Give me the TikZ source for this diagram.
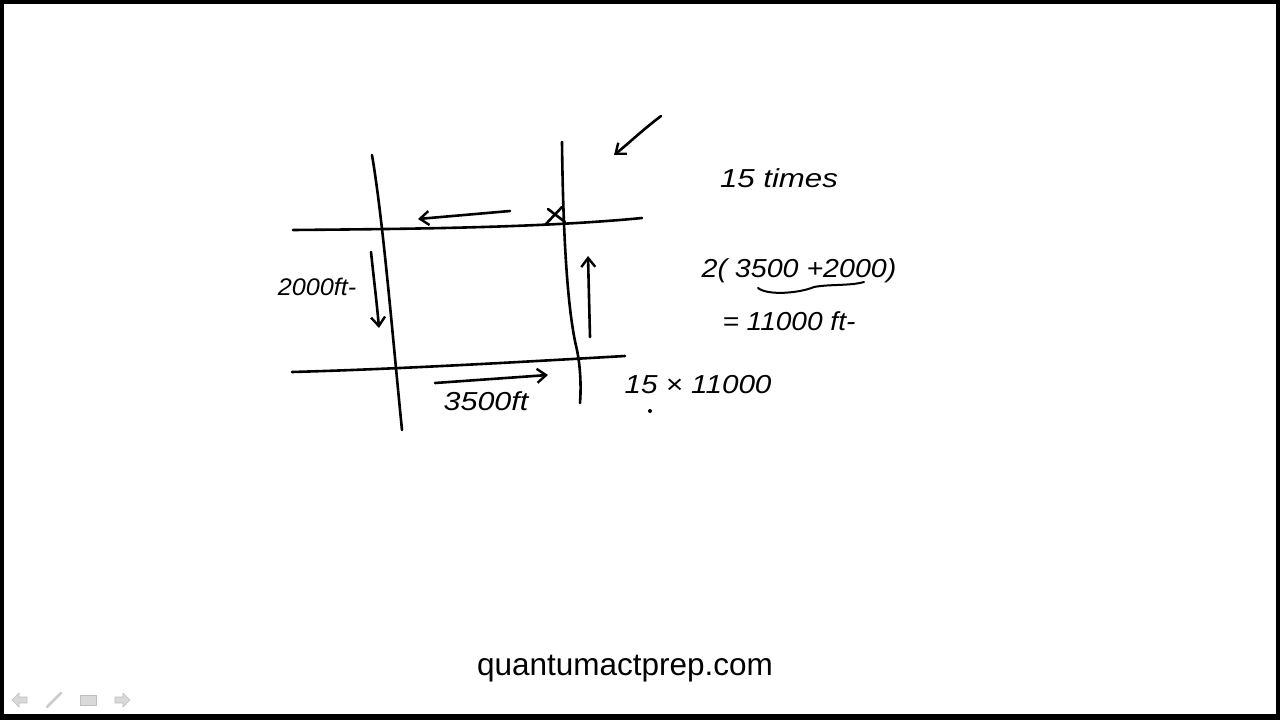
\documentclass[tikz,border=0pt]{standalone}
\usepackage{fontspec}
\setmainfont{Liberation Sans}
\usetikzlibrary{arrows.meta}
\tikzset{
  pen/.style={line width=2.6pt, line cap=round, line join=round, black},
  penarrow/.style={pen, -{Straight Barb[length=9pt,width=14pt,line width=2.4pt]}},
  hand/.style={font=\fontsize{26}{28}\selectfont\itshape, inner sep=0pt, anchor=center},
  icon/.style={fill=black!15, draw=black!25, line width=0.6pt}
}
\begin{document}
\begin{tikzpicture}[x=1pt,y=-1pt]
\useasboundingbox (0,0) rectangle (1280,720);
% frame
\fill[black] (0,0) rectangle (1280,720);
\fill[white] (4,4) rectangle (1276,714);

% coordinates for road lines
\coordinate (lv1) at (372,155);
\coordinate (lv2) at (402,430);
\coordinate (rv1) at (562,142);
\coordinate (rv2) at (580,403);
\coordinate (th1) at (293,230);
\coordinate (th2) at (642,218);
\coordinate (bh1) at (292,372);
\coordinate (bh2) at (625,356);

% roads
\draw[pen] (lv1) .. controls (383,220) and (392,330) .. (lv2);
\draw[pen] (rv1) .. controls (563,230) and (567,310) .. (577,350) .. controls (581,370) and (581,390) .. (rv2);
\draw[pen] (th1) .. controls (400,229) and (540,228) .. (th2);
\draw[pen] (bh1) .. controls (400,369) and (520,362) .. (bh2);

% direction arrows
\coordinate (a1s) at (510,211);
\coordinate (a1e) at (418,219);
\draw[penarrow] (a1s) -- (a1e);
\coordinate (a2s) at (371,252);
\coordinate (a2e) at (379,328);
\draw[penarrow] (a2s) .. controls (374,280) and (377,305) .. (a2e);
\coordinate (a3s) at (590,337);
\coordinate (a3e) at (588,256);
\draw[penarrow] (a3s) -- (a3e);
\coordinate (a4s) at (435,383);
\coordinate (a4e) at (548,375);
\draw[penarrow] (a4s) -- (a4e);
\coordinate (a5s) at (661,116);
\coordinate (a5e) at (614,155);
\draw[penarrow] (a5s) .. controls (640,132) and (628,144) .. (a5e);

% X mark
\coordinate (x1) at (548,209);
\coordinate (x2) at (565,222);
\coordinate (x3) at (562,207);
\coordinate (x4) at (545,225);
\draw[pen] (x1) -- (x2);
\draw[pen] (x3) -- (x4);

% labels
\node[hand, font=\fontsize{24}{26}\selectfont\itshape] (l2000) at (317,287) {\scalebox{1.05}[1]{2000ft-}};
\node[hand] (l3500) at (486,401) {\scalebox{1.17}[1]{3500ft}};
\node[hand] (ltimes) at (779,178) {\scalebox{1.2}[1]{15 times}};
\node[hand] (lsum) at (799,271) {\scalebox{1.1}[1]{2( 3500 +2000)}};
\node[hand] (leq) at (789,321) {\scalebox{1.08}[1]{= 11000 ft-}};
\node[hand] (lprod) at (698,385) {\scalebox{1.14}[1]{15 × 11000}};
\fill (650,411) circle (2pt);

% underbrace
\coordinate (ub1) at (758,288);
\coordinate (ub2) at (864,282);
\draw[pen, line width=2pt] (ub1) .. controls (768,296) and (800,293) .. (814,287)
  .. controls (830,284) and (850,286) .. (ub2);

% footer
\node[font=\fontsize{31.5}{34}\selectfont, inner sep=0pt, anchor=base] (site) at (625,675) {quantumactprep.com};

% navigation icons
\fill[icon] (12,700) -- (19,693) -- (19,697) -- (27,697) -- (27,703) -- (19,703) -- (19,707) -- cycle;
\draw[black!20, line width=2.5pt, line cap=round] (47,707) -- (61,693);
\fill[icon] (80,695) rectangle (96,705);
\fill[icon] (130,700) -- (123,693) -- (123,697) -- (115,697) -- (115,703) -- (123,703) -- (123,707) -- cycle;
\end{tikzpicture}
\end{document}
